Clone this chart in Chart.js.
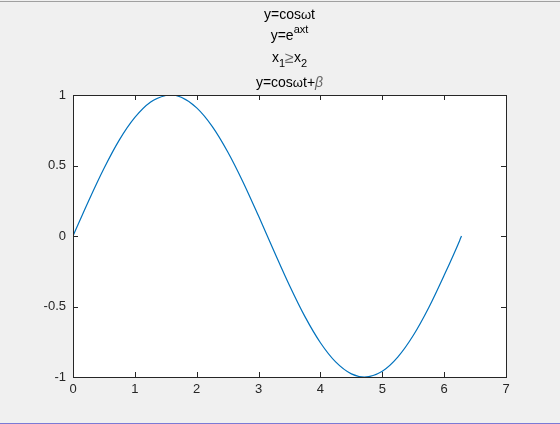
<!DOCTYPE html>
<html>
<head>
<meta charset="utf-8">
<script src="https://cdn.jsdelivr.net/npm/chart.js@4/dist/chart.umd.min.js"></script>
<style>
  body { margin: 0; background: #f0f0f0; }
  canvas { display: block; }
</style>
</head>
<body>
<canvas id="fig" width="560" height="424"></canvas>
<script>
// values (one period of the curve)
const xValues = [0, 0.25, 0.5, 0.75, 1.0, 1.25, 1.5, 1.57, 1.75, 2.0, 2.25, 2.5, 2.75, 3.0, 3.25,
    3.5, 3.75, 4.0, 4.25, 4.5, 4.71, 5.0, 5.25, 5.5, 5.75, 6.0, 6.25, 6.28];
const yValues = [0, 0.247, 0.479, 0.682, 0.841, 0.949, 0.997, 1.0, 0.984, 0.909, 0.778, 0.598, 0.382, 0.141, -0.108,
    -0.351, -0.572, -0.757, -0.895, -0.978, -1.0, -0.959, -0.859, -0.706, -0.509, -0.279, -0.033, 0];
const xTicks = [0, 1, 2, 3, 4, 5, 6, 7];
const yTicks = [-1, -0.5, 0, 0.5, 1];

// title lines, each a list of pieces: [text, size, shift, style, colour]
const titleLines = [
    [['y=cos', 14], ['ω', 13], ['t', 14]],
    [['y=e', 14], ['axt', 11, -7]],
    [['x', 14], ['1', 11, 5], ['≥', 16, 1, '', '#666'], ['x', 14], ['2', 11, 5]],
    [['y=cos', 14], ['ω', 13], ['t+', 14], ['β', 14, 0, 'italic', '#666']],
];
const titleBaselines = [19, 40, 62, 87];

const axisColor = '#262626';
const fontFamily = "'Liberation Sans', Arial, sans-serif";

const pts = xValues.map((x, i) => ({x: x, y: yValues[i]}));

const matlabAxes = {
    id: 'matlabAxes',
    beforeDraw(chart) {
        const ctx = chart.ctx;
        const a = chart.chartArea;
        ctx.save();
        ctx.fillStyle = '#ffffff';
        ctx.fillRect(a.left, a.top, a.right - a.left, a.bottom - a.top);
        ctx.restore();
    },
    afterDraw(chart) {
        const ctx = chart.ctx;
        const a = chart.chartArea;
        const xs = chart.scales.x, ys = chart.scales.y;
        ctx.save();
        ctx.strokeStyle = axisColor;
        ctx.lineWidth = 1;
        ctx.beginPath();
        ctx.rect(Math.round(a.left) + 0.5, Math.round(a.top) + 0.5,
            Math.round(a.right - a.left), Math.round(a.bottom - a.top));
        // inward ticks on all four sides
        xTicks.forEach(v => {
            const px = Math.round(xs.getPixelForValue(v)) + 0.5;
            ctx.moveTo(px, a.bottom); ctx.lineTo(px, a.bottom - 5);
            ctx.moveTo(px, a.top); ctx.lineTo(px, a.top + 5);
        });
        yTicks.forEach(v => {
            const py = Math.round(ys.getPixelForValue(v)) + 0.5;
            ctx.moveTo(a.left, py); ctx.lineTo(a.left + 5, py);
            ctx.moveTo(a.right, py); ctx.lineTo(a.right - 5, py);
        });
        ctx.stroke();

        // title with super/subscripts
        const cx = (a.left + a.right) / 2;
        titleLines.forEach((line, i) => {
            let w = 0;
            line.forEach(p => {
                ctx.font = (p[3] || '') + ' ' + p[1] + 'px ' + fontFamily;
                w += ctx.measureText(p[0]).width;
            });
            let x = cx - w / 2;
            ctx.textBaseline = 'alphabetic';
            ctx.textAlign = 'left';
            line.forEach(p => {
                ctx.font = (p[3] || '') + ' ' + p[1] + 'px ' + fontFamily;
                ctx.fillStyle = p[4] || '#000000';
                ctx.fillText(p[0], x, titleBaselines[i] + (p[2] || 0));
                x += ctx.measureText(p[0]).width;
            });
        });

        // window edges: grey line on top, blue line at the bottom
        ctx.fillStyle = '#a0a0a0';
        ctx.fillRect(0, 1, chart.width, 1);
        ctx.fillStyle = '#7a7ad6';
        ctx.fillRect(0, chart.height - 1, chart.width, 1);
        ctx.restore();
    }
};

new Chart(document.getElementById('fig'), {
    type: 'line',
    data: {
        datasets: [{
            data: pts,
            borderColor: '#0072BD',
            borderWidth: 1.2,
            pointRadius: 0,
            fill: false,
            cubicInterpolationMode: 'monotone',
        }]
    },
    options: {
        responsive: false,
        animation: false,
        layout: { padding: { top: 95, right: 54, left: 0, bottom: 0 } },
        plugins: { legend: { display: false }, title: { display: false }, tooltip: { enabled: false } },
        scales: {
            x: {
                type: 'linear', min: 0, max: 7,
                afterBuildTicks: s => { s.ticks = xTicks.map(v => ({value: v})); },
                afterFit: s => { s.height = 47; },
                ticks: { color: axisColor, padding: 5, maxRotation: 0, font: { family: fontFamily, size: 13 },
                    callback: v => String(v) },
                grid: { display: true, drawOnChartArea: false, drawTicks: false },
                border: { color: axisColor },
            },
            y: {
                type: 'linear', min: -1, max: 1,
                afterBuildTicks: s => { s.ticks = yTicks.map(v => ({value: v})); },
                afterFit: s => { s.width = 73; },
                ticks: { color: axisColor, padding: 7, font: { family: fontFamily, size: 13 },
                    callback: v => String(v) },
                grid: { display: true, drawOnChartArea: false, drawTicks: false },
                border: { color: axisColor },
            }
        }
    },
    plugins: [matlabAxes]
});
</script>
</body>
</html>
